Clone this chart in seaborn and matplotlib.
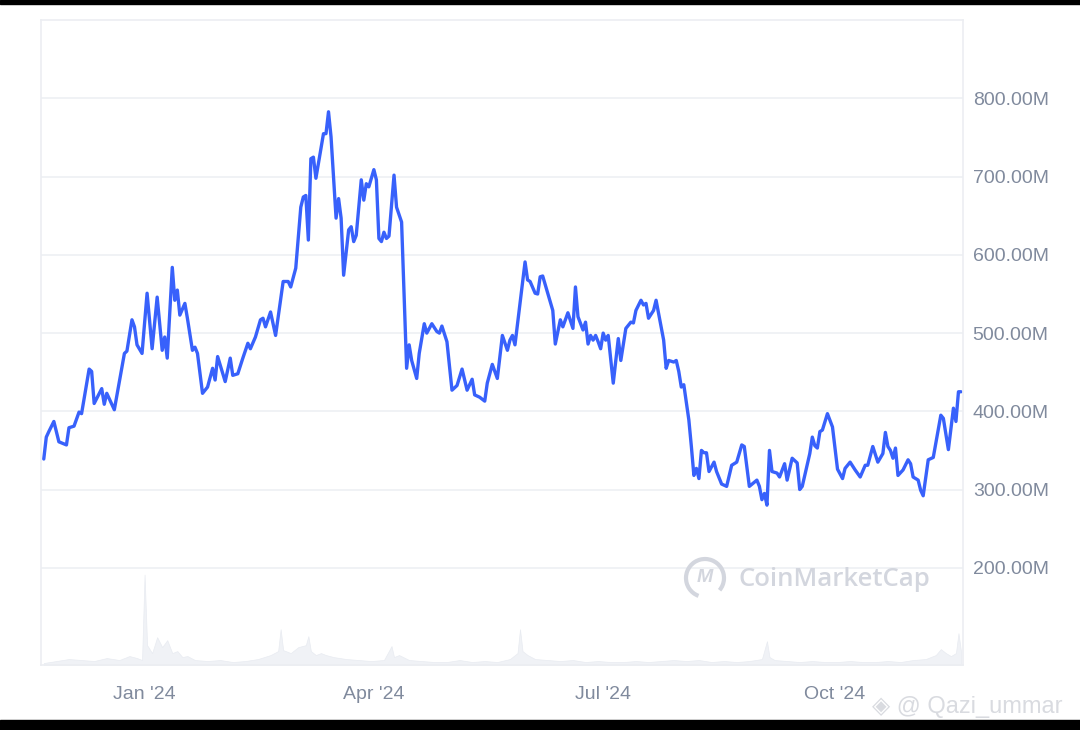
import matplotlib
matplotlib.use("Agg")
from matplotlib import pyplot as plt
import matplotlib.dates as mdates
from matplotlib.patches import Arc, Rectangle
from matplotlib.ticker import FixedLocator, FuncFormatter
import seaborn as sns
import pandas as pd

##########
## DATA ##
##########

# days counted from 1 Jan 2024, market cap in millions USD
day_offset = [
    -40, -39, -38, -36, -34, -31, -30, -28, -26, -25, -22, -21, -20, -17, -16,
    -15, -12, -8, -7, -5, -4, -3, -1, 1, 3, 5, 7, 8, 9, 11, 12, 13, 14, 16, 17,
    19, 20, 21, 23, 25, 27, 28, 29, 32, 34, 35, 37, 39, 41, 42, 44, 46, 47, 48,
    50, 52, 55, 57, 58, 60, 62, 63, 64, 65, 66, 67, 68, 71, 72, 73, 74, 76, 77,
    78, 79, 81, 82, 83, 84, 86, 87, 88, 89, 91, 92, 93, 94, 95, 96, 97, 99, 100,
    102, 104, 105, 106, 108, 109, 111, 112, 114, 116, 117, 118, 120, 122, 124,
    126, 128, 130, 131, 133, 135, 136, 138, 140, 142, 144, 145, 146, 147, 151,
    152, 153, 155, 156, 157, 158, 160, 162, 163, 165, 166, 168, 170, 171, 172,
    174, 175, 176, 177, 178, 179, 180, 181, 182, 183, 184, 186, 188, 189, 191,
    193, 194, 195, 197, 198, 199, 200, 202, 203, 205, 206, 207, 208, 210, 211,
    212, 213, 214, 216, 217, 218, 219, 220, 221, 222, 223, 224, 226, 227, 229,
    231, 233, 235, 237, 238, 240, 243, 244, 245, 246, 247, 248, 249, 251, 252,
    254, 255, 257, 259, 260, 261, 264, 265, 266, 267, 268, 269, 271, 273, 275,
    277, 278, 280, 282, 284, 286, 287, 289, 291, 293, 294, 295, 296, 297, 298,
    299, 301, 303, 304, 305, 307, 308, 309, 311, 313, 314, 316, 317, 319, 321,
    322, 323, 324,
]
market_cap = [
    339, 367, 374, 387, 361, 357, 379, 381, 399, 397, 454, 451, 410, 429, 409,
    423, 402, 474, 477, 517, 508, 485, 474, 551, 480, 546, 478, 495, 468, 584,
    542, 555, 523, 538, 519, 478, 482, 474, 423, 431, 455, 440, 470, 438, 468,
    446, 448, 468, 487, 480, 495, 517, 519, 508, 527, 497, 566, 566, 559, 583,
    661, 674, 676, 619, 723, 725, 698, 755, 755, 783, 751, 647, 672, 647, 574,
    632, 636, 617, 625, 696, 670, 691, 687, 709, 696, 621, 617, 629, 621, 624,
    702, 661, 642, 455, 485, 465, 442, 474, 512, 500, 512, 502, 500, 509, 489,
    427, 433, 454, 427, 441, 421, 418, 413, 436, 460, 442, 497, 478, 491, 497,
    485, 591, 568, 566, 551, 550, 572, 573, 551, 529, 486, 517, 508, 526, 506,
    559, 521, 504, 514, 486, 497, 491, 497, 489, 480, 500, 491, 497, 436, 493,
    465, 506, 514, 513, 529, 542, 536, 538, 519, 529, 542, 508, 491, 455, 465,
    463, 465, 451, 431, 434, 389, 355, 318, 327, 314, 350, 347, 347, 323, 335,
    323, 307, 304, 331, 335, 357, 355, 304, 312, 304, 287, 295, 280, 350, 323,
    321, 316, 333, 312, 340, 334, 300, 304, 346, 367, 356, 353, 374, 376, 397,
    380, 326, 314, 327, 335, 325, 316, 331, 331, 355, 335, 346, 373, 355, 350,
    340, 353, 318, 325, 338, 333, 316, 312, 299, 292, 338, 341, 359, 395, 391,
    351, 404, 387, 425, 425,
]

# trading volume strip at the bottom, millions USD
vol_day = [
    -40, -35, -30, -25, -20, -15, -10, -6, -3, -1, 0, 1, 3, 5, 7, 9, 11, 13, 15,
    17, 20, 25, 30, 35, 40, 45, 50, 53, 54, 55, 58, 61, 64, 65, 66, 68, 70, 72,
    75, 80, 85, 90, 95, 98, 99, 101, 105, 110, 115, 120, 125, 130, 135, 140,
    145, 148, 149, 150, 152, 155, 160, 165, 170, 175, 180, 185, 190, 195, 200,
    205, 210, 215, 220, 225, 230, 235, 240, 245, 247, 248, 250, 255, 260, 265,
    270, 275, 280, 285, 290, 295, 300, 305, 310, 314, 316, 318, 320, 322, 323,
    324,
]
volume = [
    4, 8, 12, 10, 8, 14, 10, 18, 14, 10, 182, 40, 24, 56, 36, 50, 24, 28, 16,
    18, 10, 8, 10, 6, 8, 12, 20, 28, 72, 30, 24, 36, 40, 58, 28, 20, 24, 20,
    16, 12, 10, 8, 10, 38, 16, 20, 10, 8, 6, 6, 10, 6, 8, 6,
    12, 24, 72, 28, 20, 12, 10, 8, 10, 6, 8, 6, 6, 8, 6,
    8, 10, 8, 10, 6, 8, 6, 8, 12, 48, 16, 10, 8, 6, 8,
    6, 6, 8, 6, 6, 8, 6, 10, 12, 20, 32, 24, 18, 24, 64,
    28,
]

y_ticks = [200, 300, 400, 500, 600, 700, 800]

##############
## PLOTTING ##
##############

base = pd.Timestamp("2024-01-01")
cap_df = pd.DataFrame({
    "date": base + pd.to_timedelta(day_offset, unit="D"),
    "market_cap": market_cap,
})
vol_df = pd.DataFrame({
    "date": base + pd.to_timedelta(vol_day, unit="D"),
    "volume": volume,
})

sns.set_style("white")
plt.rcParams["font.family"] = ["Liberation Sans", "DejaVu Sans"]

grey_text = "#808a9d"
line_blue = "#3861fb"
frame = "#eceef2"
mark_grey = "#d3d6de"

fig = plt.figure(figsize=(10.8, 7.3), dpi=100)
ax = fig.add_axes([41 / 1080, 65 / 730, 922 / 1080, 645.5 / 730])

# volume strip on a hidden twin axis, behind the price line
ax2 = ax.twinx()
ax2.fill_between(vol_df.date, 0, vol_df.volume, color="#f0f2f6",
                 linewidth=0.5, edgecolor="#e8ebf1")
ax2.set_ylim(0, 1300)
ax2.axis("off")
ax.set_zorder(ax2.get_zorder() + 1)
ax.patch.set_visible(False)

sns.lineplot(data=cap_df, x="date", y="market_cap", ax=ax,
             color=line_blue, linewidth=2.4)

ax.set_xlim(base + pd.Timedelta(days=-41.1), base + pd.Timedelta(days=324.8))
ax.set_ylim(75.6, 901)

ax.yaxis.tick_right()
ax.yaxis.set_major_locator(FixedLocator(y_ticks))
ax.yaxis.set_major_formatter(FuncFormatter(lambda v, _: f"{v:.2f}M"))
ax.xaxis.set_major_locator(mdates.MonthLocator(bymonth=[1, 4, 7, 10]))
ax.xaxis.set_major_formatter(mdates.DateFormatter("%b '%y"))
ax.tick_params(axis="y", length=0, pad=7, labelsize=14, labelcolor=grey_text)
ax.tick_params(axis="x", length=0, pad=15, labelsize=14, labelcolor=grey_text)
ax.set_xlabel("")
ax.set_ylabel("")

ax.grid(axis="y", color="#eef0f4", linewidth=1.2)
ax.grid(axis="x", visible=False)
for side in ["left", "top", "right", "bottom"]:
    ax.spines[side].set_color(frame)
    ax.spines[side].set_linewidth(1.2)

# CoinMarketCap watermark
fig.text(739 / 1080, 1 - 579 / 730, "CoinMarketCap", fontsize=18.5,
         fontweight="semibold", color=mark_grey, va="center", ha="left",
         family=["Open Sans", "DejaVu Sans"])
fig.patches.append(Arc((7.05, 1.52), 0.38, 0.38, theta1=-40, theta2=250,
                       linewidth=3.0, color=mark_grey,
                       transform=fig.dpi_scale_trans, figure=fig))
fig.text(705 / 1080, 1 - 578 / 730, "M", fontsize=14, fontweight="bold",
         fontstyle="italic", color=mark_grey, va="center", ha="center")

# phone screenshot black bands and reposter tag
fig.patches.append(Rectangle((0, 1 - 4 / 730), 1, 4 / 730, color="black",
                             transform=fig.transFigure, figure=fig))
fig.patches.append(Rectangle((0, 0), 1, 10 / 730, color="black",
                             transform=fig.transFigure, figure=fig))
fig.text(872 / 1080, 1 - 707 / 730, "◈ @ Qazi_ummar", fontsize=17,
         color="#d9dbe0", va="center", ha="left")

plt.savefig("out.png", dpi=100)
